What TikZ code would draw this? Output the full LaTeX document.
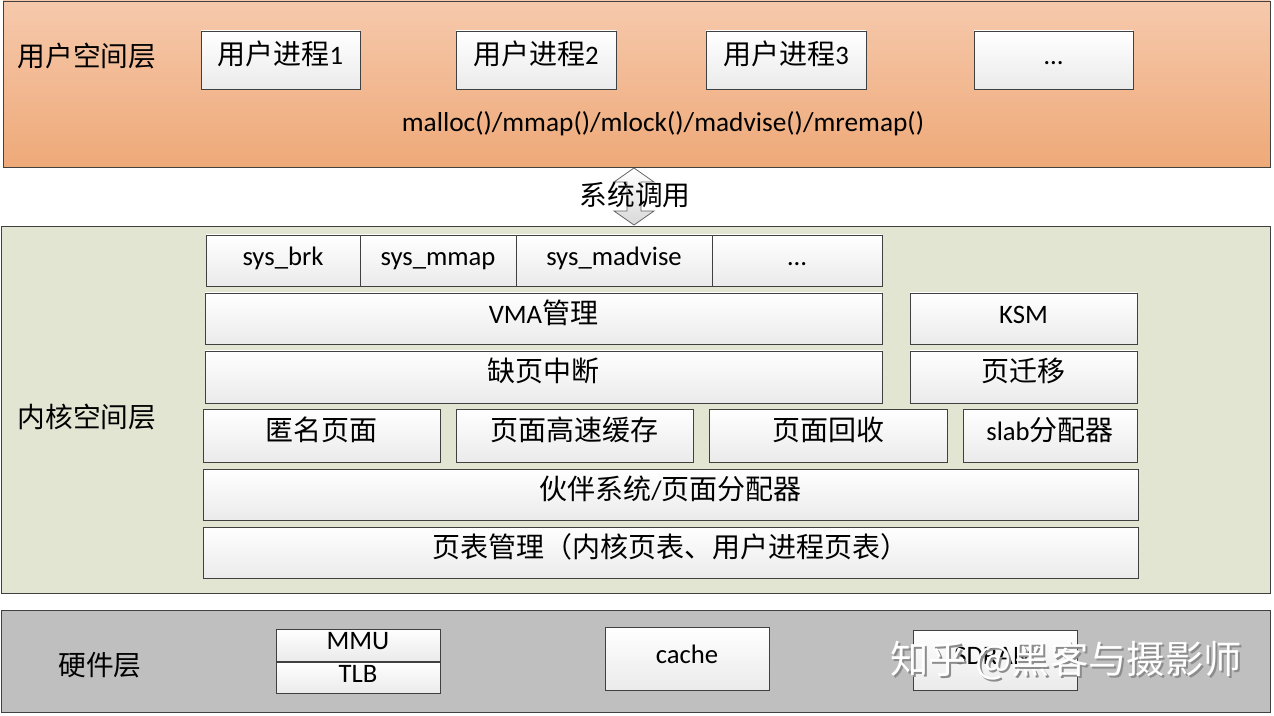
\documentclass[tikz,border=0pt]{standalone}
\usepackage{fontspec}
\setmainfont{Carlito}
\newfontfamily\cjk{Noto Sans CJK SC}[Scale=1.05]
\usetikzlibrary{shadows}
\definecolor{bord}{HTML}{404040}
\definecolor{otop}{HTML}{F6C9AC}
\definecolor{obot}{HTML}{EEA978}
\tikzset{
  x=0.75pt,y=-0.75pt,
  box/.style={draw=bord,line width=0.6pt,top color=white,bottom color=black!8,font=\fontsize{20}{22}\selectfont},
  layer/.style={draw=bord,line width=0.6pt},
  lbl/.style={font=\fontsize{19.8}{22}\selectfont}
}
\newcommand{\bx}[4]{\path[box] (#1) rectangle (#2) node[midway,yshift=1.5pt,text height=14pt,text depth=4pt] (#3) {#4};}
\begin{document}
\begin{tikzpicture}
\useasboundingbox (0,0) rectangle (1274,716);
\fill[white] (0,0) rectangle (1274,716);
% layers
\path[layer,top color=otop,bottom color=obot] (3,1) rectangle (1270,167) node[pos=0] (ul) {};
\path[layer,fill=green!10!olive!15!white!92!gray] (1,226) rectangle (1270,593) node[pos=0] (kl) {};
\path[layer,fill=black!25] (1,610) rectangle (1270,712) node[pos=0] (hl) {};
\node[lbl] (t1) at (87,56) {\cjk 用户空间层};
\node[lbl] (t2) at (87,417) {\cjk 内核空间层};
\node[lbl] (t3) at (100,665) {\cjk 硬件层};
% user boxes
\bx{201,31}{360,89}{u1}{\cjk 用户进程\rmfamily 1}
\bx{456,31}{616,89}{u2}{\cjk 用户进程\rmfamily 2}
\bx{706,31}{866,89}{u3}{\cjk 用户进程\rmfamily 3}
\bx{974,31}{1133,89}{u4}{…}
\node[font=\fontsize{20.5}{22}\selectfont] (mal) at (663,124) {malloc()/mmap()/mlock()/madvise()/mremap()};
% arrow
\path[draw=black!60,line width=0.6pt,top color=white,bottom color=black!15]
  (634,168) -- (654,182) -- (641,182) -- (641,211) -- (654,211) -- (634,225) -- (614,211) -- (627,211) -- (627,182) -- (614,182) -- cycle;
\node[lbl] (sc) at (635,195) {\cjk 系统调用};
% kernel
\bx{206,235}{360,286}{k1}{sys\_brk}
\bx{360,235}{516,286}{k2}{sys\_mmap}
\bx{516,235}{712,286}{k3}{sys\_madvise}
\bx{712,235}{882,286}{k4}{…}
\bx{205,293}{882,344}{vma}{VMA\cjk 管理}
\bx{910,293}{1137,344}{ksm}{KSM}
\bx{205,351}{882,403}{pf}{\cjk 缺页中断}
\bx{910,351}{1137,403}{mig}{\cjk 页迁移}
\bx{203,409}{440,462}{an}{\cjk 匿名页面}
\bx{456,409}{693,462}{pc}{\cjk 页面高速缓存}
\bx{709,409}{947,462}{rc}{\cjk 页面回收}
\bx{963,409}{1137,462}{sl}{slab\cjk 分配器}
\bx{203,469}{1138,520}{bd}{\cjk 伙伴系统\rmfamily /\cjk 页面分配器}
\bx{203,527}{1138,578}{pt}{\cjk 页表管理（内核页表、用户进程页表）}
% hardware
\bx{276,629}{440,661}{mmu}{MMU}
\bx{276,662}{440,693}{tlb}{TLB}
\bx{605,627}{769,690}{ca}{cache}
\bx{913,630}{1077,690}{sd}{SDRAM}
\node[font=\cjk\fontsize{27.4}{30}\selectfont,text=black!45] (wm0) at (1068,663) {知乎 @黑客与摄影师};
\node[font=\cjk\fontsize{27.4}{30}\selectfont,text=white] (wm) at (1066,661) {知乎 @黑客与摄影师};
\end{tikzpicture}
\end{document}
